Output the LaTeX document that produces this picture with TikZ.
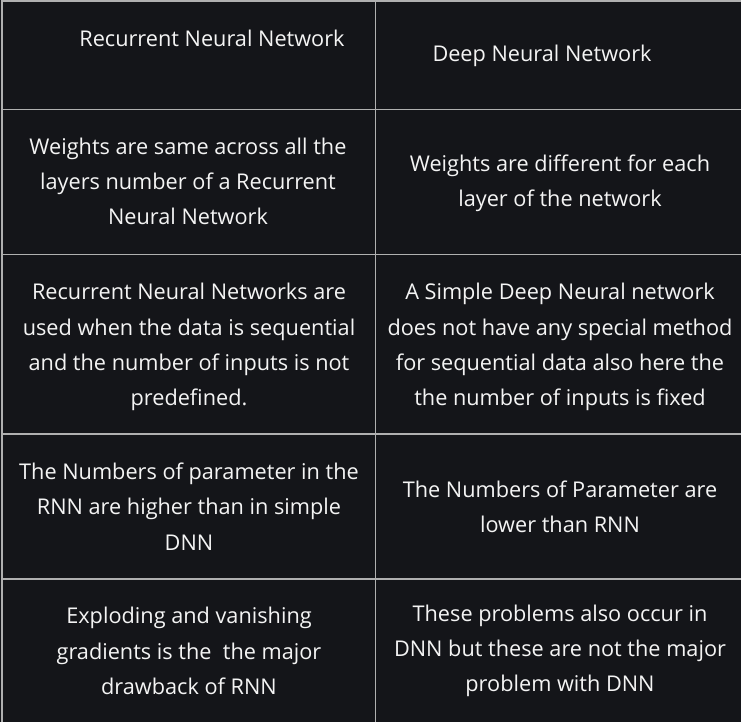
\documentclass[tikz,border=0pt]{standalone}
\usepackage{fontspec}
\setmainfont{Open Sans}
\definecolor{bgc}{HTML}{141519}
\definecolor{gridc}{HTML}{B0B0B0}
\definecolor{txtc}{HTML}{F4F4F4}
\begin{document}
\begin{tikzpicture}[x=1pt,y=-1pt,
  cell/.style={text=txtc,align=center,inner sep=0pt,font=\fontsize{21.7}{35.2}\selectfont},
  grid/.style={draw=gridc,line width=1.6pt}]
\fill[bgc] (0,0) rectangle (741,722);
\useasboundingbox (0,0) rectangle (741,722);
% grid
\draw[grid] (2,1) -- (741,1);
\draw[grid] (2,0) -- (2,722);
\draw[grid,line width=1.4pt] (375.5,0) -- (375.5,722);
\draw[grid] (2,109.5) -- (741,109.5);
\draw[grid] (2,254.5) -- (741,254.5);
\draw[grid] (2,434) -- (741,434);
\draw[grid] (2,579) -- (741,579);
% header
\node[cell] (h1) at (212,38.5) {Recurrent Neural Network};
\node[cell] (h2) at (542,56) {Deep Neural Network};
% row 2
\node[cell] (a1) at (188,181.5) {Weights are same across all the\\layers number of a Recurrent\\Neural Network};
\node[cell] (b1) at (560,183) {Weights are different for each\\layer of the network};
% row 3
\node[cell] (a2) at (189,347) {Recurrent Neural Networks are\\used when the data is sequential\\and the number of inputs is not\\predefined.};
\node[cell] (b2) at (560,347) {A Simple Deep Neural network\\does not have any special method\\for sequential data also here the\\the number of inputs is fixed};
% row 4
\node[cell] (a3) at (189,506.5) {The Numbers of parameter in the\\RNN are higher than in simple\\DNN};
\node[cell] (b3) at (560,507) {The Numbers of Parameter are\\lower than RNN};
% row 5
\node[cell] (a4) at (189,651) {Exploding and vanishing\\gradients is the\ \ the major\\drawback of RNN};
\node[cell] (b4) at (560,651) {These problems also occur in\\DNN but these are not the major\\problem with DNN};
\end{tikzpicture}
\end{document}
